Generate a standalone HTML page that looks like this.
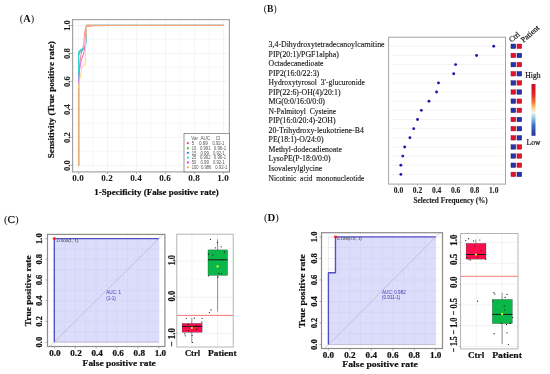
<!DOCTYPE html>
<html><head><meta charset="utf-8"><title>Figure</title>
<style>html,body{margin:0;padding:0;background:#fff;}svg{display:block;}</style></head>
<body><svg width="550" height="374" viewBox="0 0 550 374">
<rect width="550" height="374" fill="#fff"/>
<text x="19.80" y="21.60" font-family='"Liberation Serif", serif' font-size="10.3" fill="#111">(<tspan font-weight="bold">A</tspan>)</text>
<text x="263.80" y="11.60" font-family='"Liberation Serif", serif' font-size="9.6" fill="#111">(<tspan font-weight="bold">B</tspan>)</text>
<text x="3.90" y="223.30" font-family='"Liberation Serif", serif' font-size="11.1" fill="#111">(<tspan stroke="#111" stroke-width="0.25">C</tspan>)</text>
<text x="263.90" y="221.00" font-family='"Liberation Serif", serif' font-size="10.7" fill="#111">(<tspan font-weight="bold">D</tspan>)</text>
<line x1="78.60" y1="20.30" x2="78.60" y2="170.60" stroke="#ececec" stroke-width="0.6"/>
<line x1="73.30" y1="165.30" x2="228.70" y2="165.30" stroke="#ececec" stroke-width="0.6"/>
<line x1="93.10" y1="20.30" x2="93.10" y2="170.60" stroke="#f4f4f4" stroke-width="0.6"/>
<line x1="73.30" y1="151.31" x2="228.70" y2="151.31" stroke="#f4f4f4" stroke-width="0.6"/>
<line x1="107.60" y1="20.30" x2="107.60" y2="170.60" stroke="#ececec" stroke-width="0.6"/>
<line x1="73.30" y1="137.32" x2="228.70" y2="137.32" stroke="#ececec" stroke-width="0.6"/>
<line x1="122.10" y1="20.30" x2="122.10" y2="170.60" stroke="#f4f4f4" stroke-width="0.6"/>
<line x1="73.30" y1="123.33" x2="228.70" y2="123.33" stroke="#f4f4f4" stroke-width="0.6"/>
<line x1="136.60" y1="20.30" x2="136.60" y2="170.60" stroke="#ececec" stroke-width="0.6"/>
<line x1="73.30" y1="109.34" x2="228.70" y2="109.34" stroke="#ececec" stroke-width="0.6"/>
<line x1="151.10" y1="20.30" x2="151.10" y2="170.60" stroke="#f4f4f4" stroke-width="0.6"/>
<line x1="73.30" y1="95.35" x2="228.70" y2="95.35" stroke="#f4f4f4" stroke-width="0.6"/>
<line x1="165.60" y1="20.30" x2="165.60" y2="170.60" stroke="#ececec" stroke-width="0.6"/>
<line x1="73.30" y1="81.36" x2="228.70" y2="81.36" stroke="#ececec" stroke-width="0.6"/>
<line x1="180.10" y1="20.30" x2="180.10" y2="170.60" stroke="#f4f4f4" stroke-width="0.6"/>
<line x1="73.30" y1="67.37" x2="228.70" y2="67.37" stroke="#f4f4f4" stroke-width="0.6"/>
<line x1="194.60" y1="20.30" x2="194.60" y2="170.60" stroke="#ececec" stroke-width="0.6"/>
<line x1="73.30" y1="53.38" x2="228.70" y2="53.38" stroke="#ececec" stroke-width="0.6"/>
<line x1="209.10" y1="20.30" x2="209.10" y2="170.60" stroke="#f4f4f4" stroke-width="0.6"/>
<line x1="73.30" y1="39.39" x2="228.70" y2="39.39" stroke="#f4f4f4" stroke-width="0.6"/>
<line x1="223.60" y1="20.30" x2="223.60" y2="170.60" stroke="#ececec" stroke-width="0.6"/>
<line x1="73.30" y1="25.40" x2="228.70" y2="25.40" stroke="#ececec" stroke-width="0.6"/>
<polyline points="78.60,165.30 78.60,84.00 79.20,70.00 80.20,60.00 81.20,54.00 82.10,50.10 83.80,44.80 84.30,36.70 85.10,30.10 86.70,26.70 93.40,25.80 110.00,25.50 223.60,25.40" fill="none" stroke="#ff8290" stroke-width="1.0" stroke-linejoin="round"/>
<polyline points="78.60,165.30 78.60,53.00 80.00,50.80 83.40,48.60 85.40,46.60 86.10,36.70 86.40,25.40 223.60,25.40" fill="none" stroke="#3ccc5a" stroke-width="1.0" stroke-linejoin="round"/>
<polyline points="78.60,165.30 78.60,55.00 80.00,52.50 83.40,49.50 85.60,46.50 86.20,36.00 86.40,25.40 223.60,25.40" fill="none" stroke="#3a98ea" stroke-width="1.0" stroke-linejoin="round"/>
<polyline points="78.60,165.30 78.60,73.00 78.70,51.40 80.00,50.10 83.40,48.10 85.40,46.10 86.10,36.70 86.40,25.40 223.60,25.40" fill="none" stroke="#30dcdc" stroke-width="1.0" stroke-linejoin="round"/>
<polyline points="78.60,165.30 78.60,86.00 79.30,72.00 80.50,63.00 82.00,58.00 83.50,54.00 85.00,47.00 86.00,33.00 86.40,25.40 223.60,25.40" fill="none" stroke="#ff5ae6" stroke-width="1.0" stroke-linejoin="round"/>
<polyline points="78.60,165.30 78.60,86.00 80.00,78.00 81.60,70.00 81.60,66.30 85.20,65.00 85.30,48.00 86.00,35.00 86.40,25.40 223.60,25.40" fill="none" stroke="#fcd47c" stroke-width="1.0" stroke-linejoin="round"/>
<line x1="86.40" y1="25.40" x2="223.60" y2="25.40" stroke="#f0a878" stroke-width="1.0"/>
<line x1="78.60" y1="165.30" x2="78.60" y2="88.00" stroke="#e4aa78" stroke-width="1.0"/>
<rect x="72.60" y="19.60" width="156.80" height="152.30" fill="none" stroke="#a4a4a4" stroke-width="1.2"/>
<line x1="70.60" y1="165.30" x2="72.60" y2="165.30" stroke="#8e8e8e" stroke-width="0.8"/>
<line x1="78.60" y1="171.90" x2="78.60" y2="173.90" stroke="#999" stroke-width="0.8"/>
<text x="78.00" y="181.20" font-family='"Liberation Serif", serif' font-size="8.1" font-weight="bold" text-anchor="middle" fill="#1a1a1a" textLength="11.40" lengthAdjust="spacingAndGlyphs" stroke="#1a1a1a" stroke-width="0.05">0.0</text>
<text x="69.70" y="165.50" font-family='"Liberation Serif", serif' font-size="8.3" font-weight="bold" text-anchor="middle" fill="#1a1a1a" transform="rotate(-90 69.70 165.50)" textLength="10.80" lengthAdjust="spacingAndGlyphs" stroke="#1a1a1a" stroke-width="0.05">0.0</text>
<line x1="70.60" y1="137.32" x2="72.60" y2="137.32" stroke="#8e8e8e" stroke-width="0.8"/>
<line x1="107.60" y1="171.90" x2="107.60" y2="173.90" stroke="#999" stroke-width="0.8"/>
<text x="107.00" y="181.20" font-family='"Liberation Serif", serif' font-size="8.1" font-weight="bold" text-anchor="middle" fill="#1a1a1a" textLength="11.40" lengthAdjust="spacingAndGlyphs" stroke="#1a1a1a" stroke-width="0.05">0.2</text>
<text x="69.70" y="137.52" font-family='"Liberation Serif", serif' font-size="8.3" font-weight="bold" text-anchor="middle" fill="#1a1a1a" transform="rotate(-90 69.70 137.52)" textLength="10.80" lengthAdjust="spacingAndGlyphs" stroke="#1a1a1a" stroke-width="0.05">0.2</text>
<line x1="70.60" y1="109.34" x2="72.60" y2="109.34" stroke="#8e8e8e" stroke-width="0.8"/>
<line x1="136.60" y1="171.90" x2="136.60" y2="173.90" stroke="#999" stroke-width="0.8"/>
<text x="136.00" y="181.20" font-family='"Liberation Serif", serif' font-size="8.1" font-weight="bold" text-anchor="middle" fill="#1a1a1a" textLength="11.40" lengthAdjust="spacingAndGlyphs" stroke="#1a1a1a" stroke-width="0.05">0.4</text>
<text x="69.70" y="109.54" font-family='"Liberation Serif", serif' font-size="8.3" font-weight="bold" text-anchor="middle" fill="#1a1a1a" transform="rotate(-90 69.70 109.54)" textLength="10.80" lengthAdjust="spacingAndGlyphs" stroke="#1a1a1a" stroke-width="0.05">0.4</text>
<line x1="70.60" y1="81.36" x2="72.60" y2="81.36" stroke="#8e8e8e" stroke-width="0.8"/>
<line x1="165.60" y1="171.90" x2="165.60" y2="173.90" stroke="#999" stroke-width="0.8"/>
<text x="165.00" y="181.20" font-family='"Liberation Serif", serif' font-size="8.1" font-weight="bold" text-anchor="middle" fill="#1a1a1a" textLength="11.40" lengthAdjust="spacingAndGlyphs" stroke="#1a1a1a" stroke-width="0.05">0.6</text>
<text x="69.70" y="81.56" font-family='"Liberation Serif", serif' font-size="8.3" font-weight="bold" text-anchor="middle" fill="#1a1a1a" transform="rotate(-90 69.70 81.56)" textLength="10.80" lengthAdjust="spacingAndGlyphs" stroke="#1a1a1a" stroke-width="0.05">0.6</text>
<line x1="70.60" y1="53.38" x2="72.60" y2="53.38" stroke="#8e8e8e" stroke-width="0.8"/>
<line x1="194.60" y1="171.90" x2="194.60" y2="173.90" stroke="#999" stroke-width="0.8"/>
<text x="194.00" y="181.20" font-family='"Liberation Serif", serif' font-size="8.1" font-weight="bold" text-anchor="middle" fill="#1a1a1a" textLength="11.40" lengthAdjust="spacingAndGlyphs" stroke="#1a1a1a" stroke-width="0.05">0.8</text>
<text x="69.70" y="53.58" font-family='"Liberation Serif", serif' font-size="8.3" font-weight="bold" text-anchor="middle" fill="#1a1a1a" transform="rotate(-90 69.70 53.58)" textLength="10.80" lengthAdjust="spacingAndGlyphs" stroke="#1a1a1a" stroke-width="0.05">0.8</text>
<line x1="70.60" y1="25.40" x2="72.60" y2="25.40" stroke="#8e8e8e" stroke-width="0.8"/>
<line x1="223.60" y1="171.90" x2="223.60" y2="173.90" stroke="#999" stroke-width="0.8"/>
<text x="223.00" y="181.20" font-family='"Liberation Serif", serif' font-size="8.1" font-weight="bold" text-anchor="middle" fill="#1a1a1a" textLength="11.40" lengthAdjust="spacingAndGlyphs" stroke="#1a1a1a" stroke-width="0.05">1.0</text>
<text x="69.70" y="25.60" font-family='"Liberation Serif", serif' font-size="8.3" font-weight="bold" text-anchor="middle" fill="#1a1a1a" transform="rotate(-90 69.70 25.60)" textLength="10.80" lengthAdjust="spacingAndGlyphs" stroke="#1a1a1a" stroke-width="0.05">1.0</text>
<text x="53.60" y="99.70" font-family='"Liberation Serif", serif' font-size="8.2" font-weight="bold" text-anchor="middle" fill="#111" transform="rotate(-90 53.60 99.70)" textLength="117.00" lengthAdjust="spacingAndGlyphs" stroke="#111" stroke-width="0.2">Sensitivity (True positive rate)</text>
<text x="156.50" y="194.90" font-family='"Liberation Serif", serif' font-size="8.2" font-weight="bold" text-anchor="middle" fill="#111" textLength="124.30" lengthAdjust="spacingAndGlyphs" stroke="#111" stroke-width="0.2">1-Specificity (False positive rate)</text>
<rect x="184.00" y="133.30" width="45.40" height="38.60" fill="#fff" stroke="#555" stroke-width="0.6"/>
<text x="191.30" y="139.60" font-family='"Liberation Sans", sans-serif' font-size="4.7" font-weight="normal" text-anchor="start" fill="#555" textLength="6.70" lengthAdjust="spacingAndGlyphs">Var</text>
<text x="200.40" y="139.60" font-family='"Liberation Sans", sans-serif' font-size="4.7" font-weight="normal" text-anchor="start" fill="#555" textLength="9.60" lengthAdjust="spacingAndGlyphs">AUC</text>
<text x="215.80" y="139.60" font-family='"Liberation Sans", sans-serif' font-size="4.7" font-weight="normal" text-anchor="start" fill="#555" textLength="4.60" lengthAdjust="spacingAndGlyphs">CI</text>
<rect x="186.90" y="142.20" width="1.90" height="1.90" fill="#f04a5e" stroke="none" stroke-width="1"/>
<text x="191.70" y="144.80" font-family='"Liberation Sans", sans-serif' font-size="4.7" font-weight="normal" text-anchor="start" fill="#555" textLength="2.40" lengthAdjust="spacingAndGlyphs">5</text>
<text x="198.90" y="144.80" font-family='"Liberation Sans", sans-serif' font-size="4.7" font-weight="normal" text-anchor="start" fill="#555" textLength="9.00" lengthAdjust="spacingAndGlyphs">0.99</text>
<text x="212.40" y="144.80" font-family='"Liberation Sans", sans-serif' font-size="4.7" font-weight="normal" text-anchor="start" fill="#555" textLength="12.00" lengthAdjust="spacingAndGlyphs">0.92-1</text>
<rect x="186.90" y="147.30" width="1.90" height="1.90" fill="#22c040" stroke="none" stroke-width="1"/>
<text x="191.70" y="149.90" font-family='"Liberation Sans", sans-serif' font-size="4.7" font-weight="normal" text-anchor="start" fill="#555" textLength="4.60" lengthAdjust="spacingAndGlyphs">10</text>
<text x="199.90" y="149.90" font-family='"Liberation Sans", sans-serif' font-size="4.7" font-weight="normal" text-anchor="start" fill="#555" textLength="10.60" lengthAdjust="spacingAndGlyphs">0.991</text>
<text x="213.80" y="149.90" font-family='"Liberation Sans", sans-serif' font-size="4.7" font-weight="normal" text-anchor="start" fill="#555" textLength="12.30" lengthAdjust="spacingAndGlyphs">0.96-1</text>
<rect x="186.90" y="151.90" width="1.90" height="1.90" fill="#2080e0" stroke="none" stroke-width="1"/>
<text x="191.70" y="154.50" font-family='"Liberation Sans", sans-serif' font-size="4.7" font-weight="normal" text-anchor="start" fill="#555" textLength="4.60" lengthAdjust="spacingAndGlyphs">15</text>
<text x="200.40" y="154.50" font-family='"Liberation Sans", sans-serif' font-size="4.7" font-weight="normal" text-anchor="start" fill="#555" textLength="8.70" lengthAdjust="spacingAndGlyphs">0.99</text>
<text x="212.90" y="154.50" font-family='"Liberation Sans", sans-serif' font-size="4.7" font-weight="normal" text-anchor="start" fill="#555" textLength="12.00" lengthAdjust="spacingAndGlyphs">0.92-1</text>
<rect x="186.90" y="156.70" width="1.90" height="1.90" fill="#22dede" stroke="none" stroke-width="1"/>
<text x="191.70" y="159.30" font-family='"Liberation Sans", sans-serif' font-size="4.7" font-weight="normal" text-anchor="start" fill="#555" textLength="4.60" lengthAdjust="spacingAndGlyphs">25</text>
<text x="199.90" y="159.30" font-family='"Liberation Sans", sans-serif' font-size="4.7" font-weight="normal" text-anchor="start" fill="#555" textLength="10.60" lengthAdjust="spacingAndGlyphs">0.992</text>
<text x="213.80" y="159.30" font-family='"Liberation Sans", sans-serif' font-size="4.7" font-weight="normal" text-anchor="start" fill="#555" textLength="12.30" lengthAdjust="spacingAndGlyphs">0.96-1</text>
<rect x="186.90" y="161.50" width="1.90" height="1.90" fill="#ff22dd" stroke="none" stroke-width="1"/>
<text x="191.70" y="164.10" font-family='"Liberation Sans", sans-serif' font-size="4.7" font-weight="normal" text-anchor="start" fill="#555" textLength="4.60" lengthAdjust="spacingAndGlyphs">50</text>
<text x="200.40" y="164.10" font-family='"Liberation Sans", sans-serif' font-size="4.7" font-weight="normal" text-anchor="start" fill="#555" textLength="8.70" lengthAdjust="spacingAndGlyphs">0.99</text>
<text x="212.90" y="164.10" font-family='"Liberation Sans", sans-serif' font-size="4.7" font-weight="normal" text-anchor="start" fill="#555" textLength="12.00" lengthAdjust="spacingAndGlyphs">0.92-1</text>
<rect x="186.90" y="166.30" width="1.90" height="1.90" fill="#ffb020" stroke="none" stroke-width="1"/>
<text x="191.70" y="168.90" font-family='"Liberation Sans", sans-serif' font-size="4.7" font-weight="normal" text-anchor="start" fill="#555" textLength="6.80" lengthAdjust="spacingAndGlyphs">100</text>
<text x="200.90" y="168.90" font-family='"Liberation Sans", sans-serif' font-size="4.7" font-weight="normal" text-anchor="start" fill="#555" textLength="10.50" lengthAdjust="spacingAndGlyphs">0.986</text>
<text x="215.30" y="168.90" font-family='"Liberation Sans", sans-serif' font-size="4.7" font-weight="normal" text-anchor="start" fill="#555" textLength="12.00" lengthAdjust="spacingAndGlyphs">0.92-1</text>
<text x="268.60" y="47.00" font-family='"Liberation Serif", serif' font-size="8.3" font-weight="normal" text-anchor="start" fill="#111" textLength="116.00" lengthAdjust="spacingAndGlyphs" stroke="#111" stroke-width="0.12">3,4-Dihydroxytetradecanoylcarnitine</text>
<text x="268.60" y="56.54" font-family='"Liberation Serif", serif' font-size="8.3" font-weight="normal" text-anchor="start" fill="#111" textLength="70.20" lengthAdjust="spacingAndGlyphs" stroke="#111" stroke-width="0.12">PIP(20:1)/PGF1alpha)</text>
<text x="268.60" y="66.08" font-family='"Liberation Serif", serif' font-size="8.3" font-weight="normal" text-anchor="start" fill="#111" textLength="54.90" lengthAdjust="spacingAndGlyphs" stroke="#111" stroke-width="0.12">Octadecanedioate</text>
<text x="268.60" y="75.62" font-family='"Liberation Serif", serif' font-size="8.3" font-weight="normal" text-anchor="start" fill="#111" textLength="50.60" lengthAdjust="spacingAndGlyphs" stroke="#111" stroke-width="0.12">PIP2(16:0/22:3)</text>
<text x="268.60" y="85.16" font-family='"Liberation Serif", serif' font-size="8.3" font-weight="normal" text-anchor="start" fill="#111" textLength="96.40" lengthAdjust="spacingAndGlyphs" stroke="#111" stroke-width="0.12">Hydroxytyrosol&#160; 3'-glucuronide</text>
<text x="268.60" y="94.70" font-family='"Liberation Serif", serif' font-size="8.3" font-weight="normal" text-anchor="start" fill="#111" textLength="71.90" lengthAdjust="spacingAndGlyphs" stroke="#111" stroke-width="0.12">PIP(22:6)-OH(4)/20:1)</text>
<text x="268.60" y="104.24" font-family='"Liberation Serif", serif' font-size="8.3" font-weight="normal" text-anchor="start" fill="#111" textLength="56.40" lengthAdjust="spacingAndGlyphs" stroke="#111" stroke-width="0.12">MG(0:0/16:0/0:0)</text>
<text x="268.60" y="113.78" font-family='"Liberation Serif", serif' font-size="8.3" font-weight="normal" text-anchor="start" fill="#111" textLength="67.60" lengthAdjust="spacingAndGlyphs" stroke="#111" stroke-width="0.12">N-Palmitoyl&#160; Cysteine</text>
<text x="268.60" y="123.32" font-family='"Liberation Serif", serif' font-size="8.3" font-weight="normal" text-anchor="start" fill="#111" textLength="67.00" lengthAdjust="spacingAndGlyphs" stroke="#111" stroke-width="0.12">PIP(16:0/20:4)-2OH)</text>
<text x="268.60" y="132.86" font-family='"Liberation Serif", serif' font-size="8.3" font-weight="normal" text-anchor="start" fill="#111" textLength="95.20" lengthAdjust="spacingAndGlyphs" stroke="#111" stroke-width="0.12">20-Trihydroxy-leukotriene-B4</text>
<text x="268.60" y="142.40" font-family='"Liberation Serif", serif' font-size="8.3" font-weight="normal" text-anchor="start" fill="#111" textLength="54.90" lengthAdjust="spacingAndGlyphs" stroke="#111" stroke-width="0.12">PE(18:1)-O/24:0)</text>
<text x="268.60" y="151.94" font-family='"Liberation Serif", serif' font-size="8.3" font-weight="normal" text-anchor="start" fill="#111" textLength="73.30" lengthAdjust="spacingAndGlyphs" stroke="#111" stroke-width="0.12">Methyl-dodecadienoate</text>
<text x="268.60" y="161.48" font-family='"Liberation Serif", serif' font-size="8.3" font-weight="normal" text-anchor="start" fill="#111" textLength="61.90" lengthAdjust="spacingAndGlyphs" stroke="#111" stroke-width="0.12">LysoPE(P-18:0/0:0)</text>
<text x="268.60" y="171.02" font-family='"Liberation Serif", serif' font-size="8.3" font-weight="normal" text-anchor="start" fill="#111" textLength="53.60" lengthAdjust="spacingAndGlyphs" stroke="#111" stroke-width="0.12">Isovalerylglycine</text>
<text x="268.60" y="180.56" font-family='"Liberation Serif", serif' font-size="8.3" font-weight="normal" text-anchor="start" fill="#111" textLength="95.80" lengthAdjust="spacingAndGlyphs" stroke="#111" stroke-width="0.12">Nicotinic&#160; acid&#160; mononucleotide</text>
<line x1="391.00" y1="46.30" x2="503.00" y2="46.30" stroke="#ebebeb" stroke-width="0.6"/>
<line x1="391.00" y1="55.45" x2="503.00" y2="55.45" stroke="#ebebeb" stroke-width="0.6"/>
<line x1="391.00" y1="64.60" x2="503.00" y2="64.60" stroke="#ebebeb" stroke-width="0.6"/>
<line x1="391.00" y1="73.75" x2="503.00" y2="73.75" stroke="#ebebeb" stroke-width="0.6"/>
<line x1="391.00" y1="82.90" x2="503.00" y2="82.90" stroke="#ebebeb" stroke-width="0.6"/>
<line x1="391.00" y1="92.05" x2="503.00" y2="92.05" stroke="#ebebeb" stroke-width="0.6"/>
<line x1="391.00" y1="101.20" x2="503.00" y2="101.20" stroke="#ebebeb" stroke-width="0.6"/>
<line x1="391.00" y1="110.35" x2="503.00" y2="110.35" stroke="#ebebeb" stroke-width="0.6"/>
<line x1="391.00" y1="119.50" x2="503.00" y2="119.50" stroke="#ebebeb" stroke-width="0.6"/>
<line x1="391.00" y1="128.65" x2="503.00" y2="128.65" stroke="#ebebeb" stroke-width="0.6"/>
<line x1="391.00" y1="137.80" x2="503.00" y2="137.80" stroke="#ebebeb" stroke-width="0.6"/>
<line x1="391.00" y1="146.95" x2="503.00" y2="146.95" stroke="#ebebeb" stroke-width="0.6"/>
<line x1="391.00" y1="156.10" x2="503.00" y2="156.10" stroke="#ebebeb" stroke-width="0.6"/>
<line x1="391.00" y1="165.25" x2="503.00" y2="165.25" stroke="#ebebeb" stroke-width="0.6"/>
<line x1="391.00" y1="174.40" x2="503.00" y2="174.40" stroke="#ebebeb" stroke-width="0.6"/>
<rect x="388.60" y="37.20" width="116.90" height="146.90" fill="none" stroke="#a6a6a6" stroke-width="1.0"/>
<circle cx="493.70" cy="46.30" r="1.45" fill="#1c1ca8"/>
<circle cx="476.56" cy="55.45" r="1.45" fill="#1c1ca8"/>
<circle cx="455.62" cy="64.60" r="1.45" fill="#1c1ca8"/>
<circle cx="453.72" cy="73.75" r="1.45" fill="#1c1ca8"/>
<circle cx="438.48" cy="82.90" r="1.45" fill="#1c1ca8"/>
<circle cx="436.58" cy="92.05" r="1.45" fill="#1c1ca8"/>
<circle cx="428.96" cy="101.20" r="1.45" fill="#1c1ca8"/>
<circle cx="421.35" cy="110.35" r="1.45" fill="#1c1ca8"/>
<circle cx="417.54" cy="119.50" r="1.45" fill="#1c1ca8"/>
<circle cx="413.73" cy="128.65" r="1.45" fill="#1c1ca8"/>
<circle cx="409.92" cy="137.80" r="1.45" fill="#1c1ca8"/>
<circle cx="404.69" cy="146.95" r="1.45" fill="#1c1ca8"/>
<circle cx="402.78" cy="156.10" r="1.45" fill="#1c1ca8"/>
<circle cx="400.88" cy="165.25" r="1.45" fill="#1c1ca8"/>
<circle cx="400.88" cy="174.40" r="1.45" fill="#1c1ca8"/>
<line x1="398.50" y1="184.10" x2="398.50" y2="185.60" stroke="#999" stroke-width="0.6"/>
<text x="398.50" y="192.60" font-family='"Liberation Serif", serif' font-size="7.8" font-weight="bold" text-anchor="middle" fill="#222" textLength="9.40" lengthAdjust="spacingAndGlyphs" stroke="#222" stroke-width="0.1">0.0</text>
<line x1="417.54" y1="184.10" x2="417.54" y2="185.60" stroke="#999" stroke-width="0.6"/>
<text x="417.54" y="192.60" font-family='"Liberation Serif", serif' font-size="7.8" font-weight="bold" text-anchor="middle" fill="#222" textLength="9.40" lengthAdjust="spacingAndGlyphs" stroke="#222" stroke-width="0.1">0.2</text>
<line x1="436.58" y1="184.10" x2="436.58" y2="185.60" stroke="#999" stroke-width="0.6"/>
<text x="436.58" y="192.60" font-family='"Liberation Serif", serif' font-size="7.8" font-weight="bold" text-anchor="middle" fill="#222" textLength="9.40" lengthAdjust="spacingAndGlyphs" stroke="#222" stroke-width="0.1">0.4</text>
<line x1="455.62" y1="184.10" x2="455.62" y2="185.60" stroke="#999" stroke-width="0.6"/>
<text x="455.62" y="192.60" font-family='"Liberation Serif", serif' font-size="7.8" font-weight="bold" text-anchor="middle" fill="#222" textLength="9.40" lengthAdjust="spacingAndGlyphs" stroke="#222" stroke-width="0.1">0.6</text>
<line x1="474.66" y1="184.10" x2="474.66" y2="185.60" stroke="#999" stroke-width="0.6"/>
<text x="474.66" y="192.60" font-family='"Liberation Serif", serif' font-size="7.8" font-weight="bold" text-anchor="middle" fill="#222" textLength="9.40" lengthAdjust="spacingAndGlyphs" stroke="#222" stroke-width="0.1">0.8</text>
<line x1="493.70" y1="184.10" x2="493.70" y2="185.60" stroke="#999" stroke-width="0.6"/>
<text x="493.70" y="192.60" font-family='"Liberation Serif", serif' font-size="7.8" font-weight="bold" text-anchor="middle" fill="#222" textLength="9.40" lengthAdjust="spacingAndGlyphs" stroke="#222" stroke-width="0.1">1.0</text>
<text x="450.60" y="203.00" font-family='"Liberation Serif", serif' font-size="7.3" font-weight="bold" text-anchor="middle" fill="#1a1a1a" textLength="74.40" lengthAdjust="spacingAndGlyphs" stroke="#1a1a1a" stroke-width="0.1">Selected Frequency (%)</text>
<rect x="510.95" y="44.00" width="4.80" height="4.60" fill="#2434aa" stroke="#1a1050" stroke-width="0.35"/>
<rect x="516.95" y="44.00" width="4.80" height="4.60" fill="#e0122c" stroke="#901020" stroke-width="0.35"/>
<rect x="510.95" y="53.15" width="4.80" height="4.60" fill="#e0122c" stroke="#901020" stroke-width="0.35"/>
<rect x="516.95" y="53.15" width="4.80" height="4.60" fill="#2434aa" stroke="#1a1050" stroke-width="0.35"/>
<rect x="510.95" y="62.30" width="4.80" height="4.60" fill="#2434aa" stroke="#1a1050" stroke-width="0.35"/>
<rect x="516.95" y="62.30" width="4.80" height="4.60" fill="#e0122c" stroke="#901020" stroke-width="0.35"/>
<rect x="510.95" y="71.45" width="4.80" height="4.60" fill="#e0122c" stroke="#901020" stroke-width="0.35"/>
<rect x="516.95" y="71.45" width="4.80" height="4.60" fill="#2434aa" stroke="#1a1050" stroke-width="0.35"/>
<rect x="510.95" y="80.60" width="4.80" height="4.60" fill="#2434aa" stroke="#1a1050" stroke-width="0.35"/>
<rect x="516.95" y="80.60" width="4.80" height="4.60" fill="#e0122c" stroke="#901020" stroke-width="0.35"/>
<rect x="510.95" y="89.75" width="4.80" height="4.60" fill="#e0122c" stroke="#901020" stroke-width="0.35"/>
<rect x="516.95" y="89.75" width="4.80" height="4.60" fill="#2434aa" stroke="#1a1050" stroke-width="0.35"/>
<rect x="510.95" y="98.90" width="4.80" height="4.60" fill="#2434aa" stroke="#1a1050" stroke-width="0.35"/>
<rect x="516.95" y="98.90" width="4.80" height="4.60" fill="#e0122c" stroke="#901020" stroke-width="0.35"/>
<rect x="510.95" y="108.05" width="4.80" height="4.60" fill="#2434aa" stroke="#1a1050" stroke-width="0.35"/>
<rect x="516.95" y="108.05" width="4.80" height="4.60" fill="#e0122c" stroke="#901020" stroke-width="0.35"/>
<rect x="510.95" y="117.20" width="4.80" height="4.60" fill="#e0122c" stroke="#901020" stroke-width="0.35"/>
<rect x="516.95" y="117.20" width="4.80" height="4.60" fill="#2434aa" stroke="#1a1050" stroke-width="0.35"/>
<rect x="510.95" y="126.35" width="4.80" height="4.60" fill="#e0122c" stroke="#901020" stroke-width="0.35"/>
<rect x="516.95" y="126.35" width="4.80" height="4.60" fill="#2434aa" stroke="#1a1050" stroke-width="0.35"/>
<rect x="510.95" y="135.50" width="4.80" height="4.60" fill="#e0122c" stroke="#901020" stroke-width="0.35"/>
<rect x="516.95" y="135.50" width="4.80" height="4.60" fill="#2434aa" stroke="#1a1050" stroke-width="0.35"/>
<rect x="510.95" y="144.65" width="4.80" height="4.60" fill="#2434aa" stroke="#1a1050" stroke-width="0.35"/>
<rect x="516.95" y="144.65" width="4.80" height="4.60" fill="#e0122c" stroke="#901020" stroke-width="0.35"/>
<rect x="510.95" y="153.80" width="4.80" height="4.60" fill="#2434aa" stroke="#1a1050" stroke-width="0.35"/>
<rect x="516.95" y="153.80" width="4.80" height="4.60" fill="#e0122c" stroke="#901020" stroke-width="0.35"/>
<rect x="510.95" y="162.95" width="4.80" height="4.60" fill="#2434aa" stroke="#1a1050" stroke-width="0.35"/>
<rect x="516.95" y="162.95" width="4.80" height="4.60" fill="#e0122c" stroke="#901020" stroke-width="0.35"/>
<rect x="510.95" y="172.10" width="4.80" height="4.60" fill="#e0122c" stroke="#901020" stroke-width="0.35"/>
<rect x="516.95" y="172.10" width="4.80" height="4.60" fill="#2434aa" stroke="#1a1050" stroke-width="0.35"/>
<text x="511.50" y="42.60" font-family='"Liberation Serif", serif' font-size="7.5" font-weight="normal" text-anchor="start" fill="#111" transform="rotate(-40 511.50 42.60)" stroke="#111" stroke-width="0.2">Ctrl</text>
<text x="523.60" y="42.80" font-family='"Liberation Serif", serif' font-size="7.8" font-weight="normal" text-anchor="start" fill="#111" transform="rotate(-41 523.60 42.80)" stroke="#111" stroke-width="0.2">Patient</text>
<defs><linearGradient id="cb" x1="0" y1="0" x2="0" y2="1"><stop offset="0" stop-color="#c0102a"/><stop offset="0.2" stop-color="#e22228"/><stop offset="0.35" stop-color="#f07838"/><stop offset="0.47" stop-color="#fcd488"/><stop offset="0.55" stop-color="#f0f8f0"/><stop offset="0.65" stop-color="#90d0e8"/><stop offset="0.8" stop-color="#3a70c0"/><stop offset="1" stop-color="#28309a"/></linearGradient></defs>
<rect x="531.50" y="84.00" width="4.00" height="51.80" fill="url(#cb)" stroke="none" stroke-width="1"/>
<text x="525.30" y="78.00" font-family='"Liberation Serif", serif' font-size="7.6" font-weight="normal" text-anchor="start" fill="#111" stroke="#111" stroke-width="0.2">High</text>
<text x="526.60" y="145.00" font-family='"Liberation Serif", serif' font-size="7.6" font-weight="normal" text-anchor="start" fill="#111" stroke="#111" stroke-width="0.2">Low</text>
<line x1="54.30" y1="234.40" x2="54.30" y2="346.50" stroke="#efefef" stroke-width="0.5"/>
<line x1="47.50" y1="342.10" x2="164.90" y2="342.10" stroke="#efefef" stroke-width="0.5"/>
<line x1="64.75" y1="234.40" x2="64.75" y2="346.50" stroke="#efefef" stroke-width="0.5"/>
<line x1="47.50" y1="331.75" x2="164.90" y2="331.75" stroke="#efefef" stroke-width="0.5"/>
<line x1="75.20" y1="234.40" x2="75.20" y2="346.50" stroke="#efefef" stroke-width="0.5"/>
<line x1="47.50" y1="321.40" x2="164.90" y2="321.40" stroke="#efefef" stroke-width="0.5"/>
<line x1="85.65" y1="234.40" x2="85.65" y2="346.50" stroke="#efefef" stroke-width="0.5"/>
<line x1="47.50" y1="311.05" x2="164.90" y2="311.05" stroke="#efefef" stroke-width="0.5"/>
<line x1="96.10" y1="234.40" x2="96.10" y2="346.50" stroke="#efefef" stroke-width="0.5"/>
<line x1="47.50" y1="300.70" x2="164.90" y2="300.70" stroke="#efefef" stroke-width="0.5"/>
<line x1="106.55" y1="234.40" x2="106.55" y2="346.50" stroke="#efefef" stroke-width="0.5"/>
<line x1="47.50" y1="290.35" x2="164.90" y2="290.35" stroke="#efefef" stroke-width="0.5"/>
<line x1="117.00" y1="234.40" x2="117.00" y2="346.50" stroke="#efefef" stroke-width="0.5"/>
<line x1="47.50" y1="280.00" x2="164.90" y2="280.00" stroke="#efefef" stroke-width="0.5"/>
<line x1="127.45" y1="234.40" x2="127.45" y2="346.50" stroke="#efefef" stroke-width="0.5"/>
<line x1="47.50" y1="269.65" x2="164.90" y2="269.65" stroke="#efefef" stroke-width="0.5"/>
<line x1="137.90" y1="234.40" x2="137.90" y2="346.50" stroke="#efefef" stroke-width="0.5"/>
<line x1="47.50" y1="259.30" x2="164.90" y2="259.30" stroke="#efefef" stroke-width="0.5"/>
<line x1="148.35" y1="234.40" x2="148.35" y2="346.50" stroke="#efefef" stroke-width="0.5"/>
<line x1="47.50" y1="248.95" x2="164.90" y2="248.95" stroke="#efefef" stroke-width="0.5"/>
<line x1="158.80" y1="234.40" x2="158.80" y2="346.50" stroke="#efefef" stroke-width="0.5"/>
<line x1="47.50" y1="238.60" x2="164.90" y2="238.60" stroke="#efefef" stroke-width="0.5"/>
<polygon points="54.30,342.10 54.30,238.60 158.80,238.60 158.80,342.10" fill="#dcdcfb"/>
<line x1="54.30" y1="342.10" x2="158.80" y2="342.10" stroke="#b4b4cc" stroke-width="0.8"/>
<g opacity="0.55">
<line x1="54.30" y1="342.10" x2="54.30" y2="238.60" stroke="#c4c4ec" stroke-width="0.5"/>
<line x1="54.30" y1="342.10" x2="158.80" y2="342.10" stroke="#c4c4ec" stroke-width="0.5"/>
<line x1="64.75" y1="342.10" x2="64.75" y2="238.60" stroke="#c4c4ec" stroke-width="0.5"/>
<line x1="54.30" y1="331.75" x2="158.80" y2="331.75" stroke="#c4c4ec" stroke-width="0.5"/>
<line x1="75.20" y1="342.10" x2="75.20" y2="238.60" stroke="#c4c4ec" stroke-width="0.5"/>
<line x1="54.30" y1="321.40" x2="158.80" y2="321.40" stroke="#c4c4ec" stroke-width="0.5"/>
<line x1="85.65" y1="342.10" x2="85.65" y2="238.60" stroke="#c4c4ec" stroke-width="0.5"/>
<line x1="54.30" y1="311.05" x2="158.80" y2="311.05" stroke="#c4c4ec" stroke-width="0.5"/>
<line x1="96.10" y1="342.10" x2="96.10" y2="238.60" stroke="#c4c4ec" stroke-width="0.5"/>
<line x1="54.30" y1="300.70" x2="158.80" y2="300.70" stroke="#c4c4ec" stroke-width="0.5"/>
<line x1="106.55" y1="342.10" x2="106.55" y2="238.60" stroke="#c4c4ec" stroke-width="0.5"/>
<line x1="54.30" y1="290.35" x2="158.80" y2="290.35" stroke="#c4c4ec" stroke-width="0.5"/>
<line x1="117.00" y1="342.10" x2="117.00" y2="238.60" stroke="#c4c4ec" stroke-width="0.5"/>
<line x1="54.30" y1="280.00" x2="158.80" y2="280.00" stroke="#c4c4ec" stroke-width="0.5"/>
<line x1="127.45" y1="342.10" x2="127.45" y2="238.60" stroke="#c4c4ec" stroke-width="0.5"/>
<line x1="54.30" y1="269.65" x2="158.80" y2="269.65" stroke="#c4c4ec" stroke-width="0.5"/>
<line x1="137.90" y1="342.10" x2="137.90" y2="238.60" stroke="#c4c4ec" stroke-width="0.5"/>
<line x1="54.30" y1="259.30" x2="158.80" y2="259.30" stroke="#c4c4ec" stroke-width="0.5"/>
<line x1="148.35" y1="342.10" x2="148.35" y2="238.60" stroke="#c4c4ec" stroke-width="0.5"/>
<line x1="54.30" y1="248.95" x2="158.80" y2="248.95" stroke="#c4c4ec" stroke-width="0.5"/>
<line x1="158.80" y1="342.10" x2="158.80" y2="238.60" stroke="#c4c4ec" stroke-width="0.5"/>
<line x1="54.30" y1="238.60" x2="158.80" y2="238.60" stroke="#c4c4ec" stroke-width="0.5"/>
</g>
<clipPath id="cp47"><rect x="47.5" y="234.4" width="117.4" height="112.1"/></clipPath>
<line x1="33.40" y1="362.80" x2="179.70" y2="217.90" stroke="#b0b0b8" stroke-width="0.6" clip-path="url(#cp47)"/>
<polyline points="54.30,342.10 54.30,238.60 158.80,238.60" fill="none" stroke="#4f4fc4" stroke-width="1.35" stroke-linejoin="round"/>
<rect x="47.50" y="234.40" width="117.40" height="112.10" fill="none" stroke="#8c8c8c" stroke-width="1.2"/>
<circle cx="54.30" cy="238.60" r="1.4" fill="#ff1010"/>
<text x="55.70" y="242.00" font-family='"Liberation Sans", sans-serif' font-size="4.4" font-weight="normal" text-anchor="start" fill="#333">-0.500(1, 1)</text>
<text x="106.20" y="294.40" font-family='"Liberation Sans", sans-serif' font-size="4.6" font-weight="normal" text-anchor="start" fill="#3a3ab4">AUC: 1</text>
<text x="106.20" y="299.60" font-family='"Liberation Sans", sans-serif' font-size="4.6" font-weight="normal" text-anchor="start" fill="#3a3ab4">(1-1)</text>
<line x1="45.50" y1="342.10" x2="47.50" y2="342.10" stroke="#8c8c8c" stroke-width="0.7"/>
<line x1="54.30" y1="346.50" x2="54.30" y2="348.50" stroke="#8c8c8c" stroke-width="0.7"/>
<text x="54.90" y="355.50" font-family='"Liberation Serif", serif' font-size="9.0" font-weight="bold" text-anchor="middle" fill="#111" textLength="11.40" lengthAdjust="spacingAndGlyphs" stroke="#111" stroke-width="0.22">0.0</text>
<text x="42.30" y="342.10" font-family='"Liberation Serif", serif' font-size="9.0" font-weight="bold" text-anchor="middle" fill="#111" transform="rotate(-90 42.30 342.10)" textLength="10.60" lengthAdjust="spacingAndGlyphs" stroke="#111" stroke-width="0.22">0.0</text>
<line x1="45.50" y1="321.40" x2="47.50" y2="321.40" stroke="#8c8c8c" stroke-width="0.7"/>
<line x1="75.20" y1="346.50" x2="75.20" y2="348.50" stroke="#8c8c8c" stroke-width="0.7"/>
<text x="76.00" y="355.50" font-family='"Liberation Serif", serif' font-size="9.0" font-weight="bold" text-anchor="middle" fill="#111" textLength="11.40" lengthAdjust="spacingAndGlyphs" stroke="#111" stroke-width="0.22">0.2</text>
<text x="42.30" y="321.40" font-family='"Liberation Serif", serif' font-size="9.0" font-weight="bold" text-anchor="middle" fill="#111" transform="rotate(-90 42.30 321.40)" textLength="10.60" lengthAdjust="spacingAndGlyphs" stroke="#111" stroke-width="0.22">0.2</text>
<line x1="45.50" y1="300.70" x2="47.50" y2="300.70" stroke="#8c8c8c" stroke-width="0.7"/>
<line x1="96.10" y1="346.50" x2="96.10" y2="348.50" stroke="#8c8c8c" stroke-width="0.7"/>
<text x="97.10" y="355.50" font-family='"Liberation Serif", serif' font-size="9.0" font-weight="bold" text-anchor="middle" fill="#111" textLength="11.40" lengthAdjust="spacingAndGlyphs" stroke="#111" stroke-width="0.22">0.4</text>
<text x="42.30" y="300.70" font-family='"Liberation Serif", serif' font-size="9.0" font-weight="bold" text-anchor="middle" fill="#111" transform="rotate(-90 42.30 300.70)" textLength="10.60" lengthAdjust="spacingAndGlyphs" stroke="#111" stroke-width="0.22">0.4</text>
<line x1="45.50" y1="280.00" x2="47.50" y2="280.00" stroke="#8c8c8c" stroke-width="0.7"/>
<line x1="117.00" y1="346.50" x2="117.00" y2="348.50" stroke="#8c8c8c" stroke-width="0.7"/>
<text x="118.20" y="355.50" font-family='"Liberation Serif", serif' font-size="9.0" font-weight="bold" text-anchor="middle" fill="#111" textLength="11.40" lengthAdjust="spacingAndGlyphs" stroke="#111" stroke-width="0.22">0.6</text>
<text x="42.30" y="280.00" font-family='"Liberation Serif", serif' font-size="9.0" font-weight="bold" text-anchor="middle" fill="#111" transform="rotate(-90 42.30 280.00)" textLength="10.60" lengthAdjust="spacingAndGlyphs" stroke="#111" stroke-width="0.22">0.6</text>
<line x1="45.50" y1="259.30" x2="47.50" y2="259.30" stroke="#8c8c8c" stroke-width="0.7"/>
<line x1="137.90" y1="346.50" x2="137.90" y2="348.50" stroke="#8c8c8c" stroke-width="0.7"/>
<text x="139.30" y="355.50" font-family='"Liberation Serif", serif' font-size="9.0" font-weight="bold" text-anchor="middle" fill="#111" textLength="11.40" lengthAdjust="spacingAndGlyphs" stroke="#111" stroke-width="0.22">0.8</text>
<text x="42.30" y="259.30" font-family='"Liberation Serif", serif' font-size="9.0" font-weight="bold" text-anchor="middle" fill="#111" transform="rotate(-90 42.30 259.30)" textLength="10.60" lengthAdjust="spacingAndGlyphs" stroke="#111" stroke-width="0.22">0.8</text>
<line x1="45.50" y1="238.60" x2="47.50" y2="238.60" stroke="#8c8c8c" stroke-width="0.7"/>
<line x1="158.80" y1="346.50" x2="158.80" y2="348.50" stroke="#8c8c8c" stroke-width="0.7"/>
<text x="160.40" y="355.50" font-family='"Liberation Serif", serif' font-size="9.0" font-weight="bold" text-anchor="middle" fill="#111" textLength="11.40" lengthAdjust="spacingAndGlyphs" stroke="#111" stroke-width="0.22">1.0</text>
<text x="42.30" y="238.60" font-family='"Liberation Serif", serif' font-size="9.0" font-weight="bold" text-anchor="middle" fill="#111" transform="rotate(-90 42.30 238.60)" textLength="10.60" lengthAdjust="spacingAndGlyphs" stroke="#111" stroke-width="0.22">1.0</text>
<text x="31.40" y="290.80" font-family='"Liberation Serif", serif' font-size="9.0" font-weight="bold" text-anchor="middle" fill="#111" transform="rotate(-90 31.40 290.80)" textLength="70.80" lengthAdjust="spacingAndGlyphs" stroke="#111" stroke-width="0.2">True positive rate</text>
<text x="119.20" y="366.00" font-family='"Liberation Serif", serif' font-size="8.6" font-weight="bold" text-anchor="middle" fill="#111" textLength="73.20" lengthAdjust="spacingAndGlyphs" stroke="#111" stroke-width="0.2">False positive rate</text>
<line x1="328.40" y1="232.70" x2="328.40" y2="348.50" stroke="#efefef" stroke-width="0.5"/>
<line x1="321.50" y1="344.60" x2="442.50" y2="344.60" stroke="#efefef" stroke-width="0.5"/>
<line x1="339.13" y1="232.70" x2="339.13" y2="348.50" stroke="#efefef" stroke-width="0.5"/>
<line x1="321.50" y1="333.83" x2="442.50" y2="333.83" stroke="#efefef" stroke-width="0.5"/>
<line x1="349.86" y1="232.70" x2="349.86" y2="348.50" stroke="#efefef" stroke-width="0.5"/>
<line x1="321.50" y1="323.06" x2="442.50" y2="323.06" stroke="#efefef" stroke-width="0.5"/>
<line x1="360.59" y1="232.70" x2="360.59" y2="348.50" stroke="#efefef" stroke-width="0.5"/>
<line x1="321.50" y1="312.29" x2="442.50" y2="312.29" stroke="#efefef" stroke-width="0.5"/>
<line x1="371.32" y1="232.70" x2="371.32" y2="348.50" stroke="#efefef" stroke-width="0.5"/>
<line x1="321.50" y1="301.52" x2="442.50" y2="301.52" stroke="#efefef" stroke-width="0.5"/>
<line x1="382.05" y1="232.70" x2="382.05" y2="348.50" stroke="#efefef" stroke-width="0.5"/>
<line x1="321.50" y1="290.75" x2="442.50" y2="290.75" stroke="#efefef" stroke-width="0.5"/>
<line x1="392.78" y1="232.70" x2="392.78" y2="348.50" stroke="#efefef" stroke-width="0.5"/>
<line x1="321.50" y1="279.98" x2="442.50" y2="279.98" stroke="#efefef" stroke-width="0.5"/>
<line x1="403.51" y1="232.70" x2="403.51" y2="348.50" stroke="#efefef" stroke-width="0.5"/>
<line x1="321.50" y1="269.21" x2="442.50" y2="269.21" stroke="#efefef" stroke-width="0.5"/>
<line x1="414.24" y1="232.70" x2="414.24" y2="348.50" stroke="#efefef" stroke-width="0.5"/>
<line x1="321.50" y1="258.44" x2="442.50" y2="258.44" stroke="#efefef" stroke-width="0.5"/>
<line x1="424.97" y1="232.70" x2="424.97" y2="348.50" stroke="#efefef" stroke-width="0.5"/>
<line x1="321.50" y1="247.67" x2="442.50" y2="247.67" stroke="#efefef" stroke-width="0.5"/>
<line x1="435.70" y1="232.70" x2="435.70" y2="348.50" stroke="#efefef" stroke-width="0.5"/>
<line x1="321.50" y1="236.90" x2="442.50" y2="236.90" stroke="#efefef" stroke-width="0.5"/>
<polygon points="328.40,344.60 328.40,272.76 335.48,272.76 335.48,236.90 435.70,236.90 435.70,344.60" fill="#dcdcfb"/>
<line x1="328.40" y1="344.60" x2="435.70" y2="344.60" stroke="#b4b4cc" stroke-width="0.8"/>
<g opacity="0.55">
<line x1="328.40" y1="344.60" x2="328.40" y2="236.90" stroke="#c4c4ec" stroke-width="0.5"/>
<line x1="328.40" y1="344.60" x2="435.70" y2="344.60" stroke="#c4c4ec" stroke-width="0.5"/>
<line x1="339.13" y1="344.60" x2="339.13" y2="236.90" stroke="#c4c4ec" stroke-width="0.5"/>
<line x1="328.40" y1="333.83" x2="435.70" y2="333.83" stroke="#c4c4ec" stroke-width="0.5"/>
<line x1="349.86" y1="344.60" x2="349.86" y2="236.90" stroke="#c4c4ec" stroke-width="0.5"/>
<line x1="328.40" y1="323.06" x2="435.70" y2="323.06" stroke="#c4c4ec" stroke-width="0.5"/>
<line x1="360.59" y1="344.60" x2="360.59" y2="236.90" stroke="#c4c4ec" stroke-width="0.5"/>
<line x1="328.40" y1="312.29" x2="435.70" y2="312.29" stroke="#c4c4ec" stroke-width="0.5"/>
<line x1="371.32" y1="344.60" x2="371.32" y2="236.90" stroke="#c4c4ec" stroke-width="0.5"/>
<line x1="328.40" y1="301.52" x2="435.70" y2="301.52" stroke="#c4c4ec" stroke-width="0.5"/>
<line x1="382.05" y1="344.60" x2="382.05" y2="236.90" stroke="#c4c4ec" stroke-width="0.5"/>
<line x1="328.40" y1="290.75" x2="435.70" y2="290.75" stroke="#c4c4ec" stroke-width="0.5"/>
<line x1="392.78" y1="344.60" x2="392.78" y2="236.90" stroke="#c4c4ec" stroke-width="0.5"/>
<line x1="328.40" y1="279.98" x2="435.70" y2="279.98" stroke="#c4c4ec" stroke-width="0.5"/>
<line x1="403.51" y1="344.60" x2="403.51" y2="236.90" stroke="#c4c4ec" stroke-width="0.5"/>
<line x1="328.40" y1="269.21" x2="435.70" y2="269.21" stroke="#c4c4ec" stroke-width="0.5"/>
<line x1="414.24" y1="344.60" x2="414.24" y2="236.90" stroke="#c4c4ec" stroke-width="0.5"/>
<line x1="328.40" y1="258.44" x2="435.70" y2="258.44" stroke="#c4c4ec" stroke-width="0.5"/>
<line x1="424.97" y1="344.60" x2="424.97" y2="236.90" stroke="#c4c4ec" stroke-width="0.5"/>
<line x1="328.40" y1="247.67" x2="435.70" y2="247.67" stroke="#c4c4ec" stroke-width="0.5"/>
<line x1="435.70" y1="344.60" x2="435.70" y2="236.90" stroke="#c4c4ec" stroke-width="0.5"/>
<line x1="328.40" y1="236.90" x2="435.70" y2="236.90" stroke="#c4c4ec" stroke-width="0.5"/>
</g>
<clipPath id="cp321"><rect x="321.5" y="232.7" width="121.0" height="115.80000000000001"/></clipPath>
<line x1="306.94" y1="366.14" x2="457.16" y2="215.36" stroke="#b0b0b8" stroke-width="0.6" clip-path="url(#cp321)"/>
<polyline points="328.40,344.60 328.40,272.76 335.48,272.76 335.48,236.90 435.70,236.90" fill="none" stroke="#4f4fc4" stroke-width="1.35" stroke-linejoin="round"/>
<rect x="321.50" y="232.70" width="121.00" height="115.80" fill="none" stroke="#8c8c8c" stroke-width="1.2"/>
<circle cx="335.50" cy="236.90" r="1.4" fill="#ff1010"/>
<text x="336.90" y="240.30" font-family='"Liberation Sans", sans-serif' font-size="4.4" font-weight="normal" text-anchor="start" fill="#333">0.188(0.9, 1)</text>
<text x="382.00" y="294.00" font-family='"Liberation Sans", sans-serif' font-size="4.6" font-weight="normal" text-anchor="start" fill="#3a3ab4">AUC: 0.982</text>
<text x="382.00" y="299.20" font-family='"Liberation Sans", sans-serif' font-size="4.6" font-weight="normal" text-anchor="start" fill="#3a3ab4">(0.911-1)</text>
<line x1="319.50" y1="344.60" x2="321.50" y2="344.60" stroke="#8c8c8c" stroke-width="0.7"/>
<line x1="328.40" y1="348.50" x2="328.40" y2="350.50" stroke="#8c8c8c" stroke-width="0.7"/>
<text x="328.40" y="357.60" font-family='"Liberation Serif", serif' font-size="9.0" font-weight="bold" text-anchor="middle" fill="#111" textLength="11.40" lengthAdjust="spacingAndGlyphs" stroke="#111" stroke-width="0.22">0.0</text>
<text x="317.00" y="344.60" font-family='"Liberation Serif", serif' font-size="9.0" font-weight="bold" text-anchor="middle" fill="#111" transform="rotate(-90 317.00 344.60)" textLength="10.60" lengthAdjust="spacingAndGlyphs" stroke="#111" stroke-width="0.22">0.0</text>
<line x1="319.50" y1="323.06" x2="321.50" y2="323.06" stroke="#8c8c8c" stroke-width="0.7"/>
<line x1="349.86" y1="348.50" x2="349.86" y2="350.50" stroke="#8c8c8c" stroke-width="0.7"/>
<text x="349.86" y="357.60" font-family='"Liberation Serif", serif' font-size="9.0" font-weight="bold" text-anchor="middle" fill="#111" textLength="11.40" lengthAdjust="spacingAndGlyphs" stroke="#111" stroke-width="0.22">0.2</text>
<text x="317.00" y="323.06" font-family='"Liberation Serif", serif' font-size="9.0" font-weight="bold" text-anchor="middle" fill="#111" transform="rotate(-90 317.00 323.06)" textLength="10.60" lengthAdjust="spacingAndGlyphs" stroke="#111" stroke-width="0.22">0.2</text>
<line x1="319.50" y1="301.52" x2="321.50" y2="301.52" stroke="#8c8c8c" stroke-width="0.7"/>
<line x1="371.32" y1="348.50" x2="371.32" y2="350.50" stroke="#8c8c8c" stroke-width="0.7"/>
<text x="371.32" y="357.60" font-family='"Liberation Serif", serif' font-size="9.0" font-weight="bold" text-anchor="middle" fill="#111" textLength="11.40" lengthAdjust="spacingAndGlyphs" stroke="#111" stroke-width="0.22">0.4</text>
<text x="317.00" y="301.52" font-family='"Liberation Serif", serif' font-size="9.0" font-weight="bold" text-anchor="middle" fill="#111" transform="rotate(-90 317.00 301.52)" textLength="10.60" lengthAdjust="spacingAndGlyphs" stroke="#111" stroke-width="0.22">0.4</text>
<line x1="319.50" y1="279.98" x2="321.50" y2="279.98" stroke="#8c8c8c" stroke-width="0.7"/>
<line x1="392.78" y1="348.50" x2="392.78" y2="350.50" stroke="#8c8c8c" stroke-width="0.7"/>
<text x="392.78" y="357.60" font-family='"Liberation Serif", serif' font-size="9.0" font-weight="bold" text-anchor="middle" fill="#111" textLength="11.40" lengthAdjust="spacingAndGlyphs" stroke="#111" stroke-width="0.22">0.6</text>
<text x="317.00" y="279.98" font-family='"Liberation Serif", serif' font-size="9.0" font-weight="bold" text-anchor="middle" fill="#111" transform="rotate(-90 317.00 279.98)" textLength="10.60" lengthAdjust="spacingAndGlyphs" stroke="#111" stroke-width="0.22">0.6</text>
<line x1="319.50" y1="258.44" x2="321.50" y2="258.44" stroke="#8c8c8c" stroke-width="0.7"/>
<line x1="414.24" y1="348.50" x2="414.24" y2="350.50" stroke="#8c8c8c" stroke-width="0.7"/>
<text x="414.24" y="357.60" font-family='"Liberation Serif", serif' font-size="9.0" font-weight="bold" text-anchor="middle" fill="#111" textLength="11.40" lengthAdjust="spacingAndGlyphs" stroke="#111" stroke-width="0.22">0.8</text>
<text x="317.00" y="258.44" font-family='"Liberation Serif", serif' font-size="9.0" font-weight="bold" text-anchor="middle" fill="#111" transform="rotate(-90 317.00 258.44)" textLength="10.60" lengthAdjust="spacingAndGlyphs" stroke="#111" stroke-width="0.22">0.8</text>
<line x1="319.50" y1="236.90" x2="321.50" y2="236.90" stroke="#8c8c8c" stroke-width="0.7"/>
<line x1="435.70" y1="348.50" x2="435.70" y2="350.50" stroke="#8c8c8c" stroke-width="0.7"/>
<text x="435.70" y="357.60" font-family='"Liberation Serif", serif' font-size="9.0" font-weight="bold" text-anchor="middle" fill="#111" textLength="11.40" lengthAdjust="spacingAndGlyphs" stroke="#111" stroke-width="0.22">1.0</text>
<text x="317.00" y="236.90" font-family='"Liberation Serif", serif' font-size="9.0" font-weight="bold" text-anchor="middle" fill="#111" transform="rotate(-90 317.00 236.90)" textLength="10.60" lengthAdjust="spacingAndGlyphs" stroke="#111" stroke-width="0.22">1.0</text>
<text x="304.60" y="291.00" font-family='"Liberation Serif", serif' font-size="9.0" font-weight="bold" text-anchor="middle" fill="#111" transform="rotate(-90 304.60 291.00)" textLength="73.90" lengthAdjust="spacingAndGlyphs" stroke="#111" stroke-width="0.2">True positive rate</text>
<text x="380.00" y="366.90" font-family='"Liberation Serif", serif' font-size="8.6" font-weight="bold" text-anchor="middle" fill="#111" textLength="75.50" lengthAdjust="spacingAndGlyphs" stroke="#111" stroke-width="0.2">False positive rate</text>
<line x1="176.80" y1="243.00" x2="233.20" y2="243.00" stroke="#f4f4f4" stroke-width="0.5"/>
<line x1="176.80" y1="279.10" x2="233.20" y2="279.10" stroke="#f4f4f4" stroke-width="0.5"/>
<line x1="176.80" y1="315.20" x2="233.20" y2="315.20" stroke="#f4f4f4" stroke-width="0.5"/>
<line x1="176.80" y1="261.10" x2="233.20" y2="261.10" stroke="#e8e8e8" stroke-width="0.6"/>
<line x1="176.80" y1="297.20" x2="233.20" y2="297.20" stroke="#e8e8e8" stroke-width="0.6"/>
<line x1="176.80" y1="333.30" x2="233.20" y2="333.30" stroke="#e8e8e8" stroke-width="0.6"/>
<line x1="191.90" y1="234.20" x2="191.90" y2="347.00" stroke="#e8e8e8" stroke-width="0.6"/>
<line x1="217.50" y1="234.20" x2="217.50" y2="347.00" stroke="#e8e8e8" stroke-width="0.6"/>
<line x1="217.60" y1="239.30" x2="217.60" y2="311.70" stroke="#666" stroke-width="0.7"/>
<rect x="208.00" y="249.90" width="19.60" height="25.50" fill="#0ab84a" stroke="#333" stroke-width="0.3"/>
<line x1="208.00" y1="259.80" x2="227.60" y2="259.80" stroke="#1a1a1a" stroke-width="1.0"/>
<circle cx="217.60" cy="266.40" r="1.15" fill="#f6f600"/>
<line x1="191.80" y1="317.90" x2="191.80" y2="342.50" stroke="#666" stroke-width="0.7"/>
<rect x="182.10" y="323.40" width="20.00" height="8.80" fill="#fa0e4c" stroke="#333" stroke-width="0.3"/>
<line x1="182.10" y1="326.40" x2="202.10" y2="326.40" stroke="#1a1a1a" stroke-width="1.0"/>
<circle cx="191.80" cy="327.90" r="1.15" fill="#f6f600"/>
<circle cx="210.40" cy="239.30" r="0.6" fill="#111"/>
<circle cx="217.40" cy="242.50" r="0.6" fill="#111"/>
<circle cx="215.30" cy="247.80" r="0.6" fill="#111"/>
<circle cx="221.20" cy="246.80" r="0.6" fill="#111"/>
<circle cx="208.50" cy="254.20" r="0.6" fill="#111"/>
<circle cx="212.90" cy="255.10" r="0.6" fill="#111"/>
<circle cx="224.50" cy="252.20" r="0.6" fill="#111"/>
<circle cx="222.10" cy="259.80" r="0.6" fill="#111"/>
<circle cx="218.80" cy="273.40" r="0.6" fill="#111"/>
<circle cx="221.40" cy="273.60" r="0.6" fill="#111"/>
<circle cx="208.50" cy="275.80" r="0.6" fill="#111"/>
<circle cx="217.90" cy="277.20" r="0.6" fill="#111"/>
<circle cx="209.40" cy="312.50" r="0.6" fill="#111"/>
<circle cx="211.00" cy="309.90" r="0.6" fill="#111"/>
<circle cx="186.40" cy="318.50" r="0.6" fill="#111"/>
<circle cx="194.40" cy="318.20" r="0.6" fill="#111"/>
<circle cx="202.10" cy="318.50" r="0.6" fill="#111"/>
<circle cx="201.80" cy="322.20" r="0.6" fill="#111"/>
<circle cx="188.20" cy="324.30" r="0.6" fill="#111"/>
<circle cx="184.20" cy="326.40" r="0.6" fill="#111"/>
<circle cx="198.90" cy="326.40" r="0.6" fill="#111"/>
<circle cx="196.20" cy="325.60" r="0.6" fill="#111"/>
<circle cx="196.90" cy="329.30" r="0.6" fill="#111"/>
<circle cx="188.50" cy="330.60" r="0.6" fill="#111"/>
<circle cx="184.80" cy="333.80" r="0.6" fill="#111"/>
<circle cx="185.30" cy="335.80" r="0.6" fill="#111"/>
<circle cx="192.10" cy="335.50" r="0.6" fill="#111"/>
<circle cx="192.40" cy="342.50" r="0.6" fill="#111"/>
<line x1="176.80" y1="315.40" x2="233.20" y2="315.40" stroke="#f46a6a" stroke-width="0.9"/>
<rect x="176.80" y="234.20" width="56.40" height="112.80" fill="none" stroke="#adadad" stroke-width="0.9"/>
<line x1="175.20" y1="261.10" x2="176.80" y2="261.10" stroke="#999" stroke-width="0.6"/>
<line x1="175.20" y1="297.20" x2="176.80" y2="297.20" stroke="#999" stroke-width="0.6"/>
<line x1="175.20" y1="333.30" x2="176.80" y2="333.30" stroke="#999" stroke-width="0.6"/>
<text x="174.80" y="265.30" font-family='"Liberation Serif", serif' font-size="9.6" font-weight="bold" text-anchor="start" fill="#111" transform="rotate(-90 174.80 265.30)" textLength="10.30" lengthAdjust="spacingAndGlyphs" stroke="#111" stroke-width="0.22">1.0</text>
<text x="174.80" y="301.50" font-family='"Liberation Serif", serif' font-size="9.6" font-weight="bold" text-anchor="start" fill="#111" transform="rotate(-90 174.80 301.50)" textLength="10.70" lengthAdjust="spacingAndGlyphs" stroke="#111" stroke-width="0.22">0.0</text>
<text x="174.80" y="346.50" font-family='"Liberation Serif", serif' font-size="9.6" font-weight="bold" text-anchor="start" fill="#111" transform="rotate(-90 174.80 346.50)" textLength="18.30" lengthAdjust="spacingAndGlyphs" stroke="#111" stroke-width="0.22">− 1.0</text>
<text x="184.90" y="355.70" font-family='"Liberation Serif", serif' font-size="9.0" font-weight="bold" text-anchor="start" fill="#111" textLength="15.20" lengthAdjust="spacingAndGlyphs" stroke="#111" stroke-width="0.2">Ctrl</text>
<text x="208.00" y="355.70" font-family='"Liberation Serif", serif' font-size="9.0" font-weight="bold" text-anchor="start" fill="#111" textLength="28.60" lengthAdjust="spacingAndGlyphs" stroke="#111" stroke-width="0.2">Patient</text>
<line x1="460.60" y1="242.40" x2="518.00" y2="242.40" stroke="#e8e8e8" stroke-width="0.6"/>
<line x1="460.60" y1="263.30" x2="518.00" y2="263.30" stroke="#e8e8e8" stroke-width="0.6"/>
<line x1="460.60" y1="284.10" x2="518.00" y2="284.10" stroke="#e8e8e8" stroke-width="0.6"/>
<line x1="460.60" y1="304.90" x2="518.00" y2="304.90" stroke="#e8e8e8" stroke-width="0.6"/>
<line x1="460.60" y1="325.70" x2="518.00" y2="325.70" stroke="#e8e8e8" stroke-width="0.6"/>
<line x1="460.60" y1="346.50" x2="518.00" y2="346.50" stroke="#e8e8e8" stroke-width="0.6"/>
<line x1="476.30" y1="233.50" x2="476.30" y2="348.90" stroke="#e8e8e8" stroke-width="0.6"/>
<line x1="502.10" y1="233.50" x2="502.10" y2="348.90" stroke="#e8e8e8" stroke-width="0.6"/>
<line x1="475.90" y1="239.50" x2="475.90" y2="259.10" stroke="#666" stroke-width="0.7"/>
<rect x="466.10" y="243.40" width="19.90" height="15.70" fill="#fa0e4c" stroke="#333" stroke-width="0.3"/>
<line x1="466.10" y1="254.50" x2="486.00" y2="254.50" stroke="#1a1a1a" stroke-width="1.0"/>
<circle cx="475.90" cy="254.60" r="1.15" fill="#f6f600"/>
<line x1="502.10" y1="292.70" x2="502.10" y2="344.20" stroke="#666" stroke-width="0.7"/>
<rect x="492.30" y="299.40" width="20.00" height="24.20" fill="#0ab84a" stroke="#333" stroke-width="0.3"/>
<line x1="492.30" y1="314.40" x2="512.30" y2="314.40" stroke="#1a1a1a" stroke-width="1.0"/>
<circle cx="502.10" cy="314.00" r="1.15" fill="#f6f600"/>
<circle cx="465.80" cy="240.60" r="0.6" fill="#111"/>
<circle cx="468.60" cy="238.70" r="0.6" fill="#111"/>
<circle cx="473.60" cy="240.90" r="0.6" fill="#111"/>
<circle cx="479.80" cy="240.00" r="0.6" fill="#111"/>
<circle cx="474.80" cy="246.00" r="0.6" fill="#111"/>
<circle cx="481.30" cy="250.70" r="0.6" fill="#111"/>
<circle cx="482.90" cy="254.50" r="0.6" fill="#111"/>
<circle cx="477.80" cy="257.10" r="0.6" fill="#111"/>
<circle cx="466.60" cy="257.30" r="0.6" fill="#111"/>
<circle cx="468.90" cy="259.10" r="0.6" fill="#111"/>
<circle cx="470.30" cy="260.10" r="0.6" fill="#111"/>
<circle cx="485.70" cy="259.30" r="0.6" fill="#111"/>
<circle cx="477.60" cy="301.20" r="0.6" fill="#111"/>
<circle cx="493.90" cy="292.70" r="0.6" fill="#111"/>
<circle cx="494.80" cy="294.10" r="0.6" fill="#111"/>
<circle cx="507.00" cy="294.40" r="0.6" fill="#111"/>
<circle cx="505.10" cy="297.40" r="0.6" fill="#111"/>
<circle cx="493.00" cy="301.10" r="0.6" fill="#111"/>
<circle cx="504.20" cy="306.20" r="0.6" fill="#111"/>
<circle cx="504.90" cy="310.00" r="0.6" fill="#111"/>
<circle cx="496.20" cy="314.50" r="0.6" fill="#111"/>
<circle cx="512.60" cy="317.50" r="0.6" fill="#111"/>
<circle cx="501.10" cy="323.20" r="0.6" fill="#111"/>
<circle cx="506.50" cy="324.40" r="0.6" fill="#111"/>
<circle cx="510.10" cy="323.20" r="0.6" fill="#111"/>
<circle cx="494.10" cy="333.70" r="0.6" fill="#111"/>
<circle cx="507.00" cy="332.80" r="0.6" fill="#111"/>
<circle cx="508.40" cy="344.50" r="0.6" fill="#111"/>
<line x1="460.60" y1="276.30" x2="518.00" y2="276.30" stroke="#f46a6a" stroke-width="0.9"/>
<rect x="460.60" y="233.50" width="57.40" height="115.40" fill="none" stroke="#adadad" stroke-width="0.9"/>
<line x1="459.00" y1="242.40" x2="460.60" y2="242.40" stroke="#999" stroke-width="0.6"/>
<line x1="459.00" y1="263.30" x2="460.60" y2="263.30" stroke="#999" stroke-width="0.6"/>
<line x1="459.00" y1="284.10" x2="460.60" y2="284.10" stroke="#999" stroke-width="0.6"/>
<line x1="459.00" y1="304.90" x2="460.60" y2="304.90" stroke="#999" stroke-width="0.6"/>
<line x1="459.00" y1="325.70" x2="460.60" y2="325.70" stroke="#999" stroke-width="0.6"/>
<line x1="459.00" y1="346.50" x2="460.60" y2="346.50" stroke="#999" stroke-width="0.6"/>
<text x="456.80" y="245.70" font-family='"Liberation Serif", serif' font-size="9.6" font-weight="bold" text-anchor="start" fill="#111" transform="rotate(-90 456.80 245.70)" textLength="11.00" lengthAdjust="spacingAndGlyphs" stroke="#111" stroke-width="0.22">1.0</text>
<text x="456.80" y="265.00" font-family='"Liberation Serif", serif' font-size="9.6" font-weight="bold" text-anchor="start" fill="#111" transform="rotate(-90 456.80 265.00)" textLength="11.30" lengthAdjust="spacingAndGlyphs" stroke="#111" stroke-width="0.22">0.5</text>
<text x="456.80" y="287.90" font-family='"Liberation Serif", serif' font-size="9.6" font-weight="bold" text-anchor="start" fill="#111" transform="rotate(-90 456.80 287.90)" textLength="11.50" lengthAdjust="spacingAndGlyphs" stroke="#111" stroke-width="0.22">0.0</text>
<text x="456.80" y="315.30" font-family='"Liberation Serif", serif' font-size="9.6" font-weight="bold" text-anchor="start" fill="#111" transform="rotate(-90 456.80 315.30)" textLength="17.10" lengthAdjust="spacingAndGlyphs" stroke="#111" stroke-width="0.22">− 0.5</text>
<text x="456.80" y="334.60" font-family='"Liberation Serif", serif' font-size="9.6" font-weight="bold" text-anchor="start" fill="#111" transform="rotate(-90 456.80 334.60)" textLength="17.10" lengthAdjust="spacingAndGlyphs" stroke="#111" stroke-width="0.22">− 1.0</text>
<text x="456.80" y="352.30" font-family='"Liberation Serif", serif' font-size="9.6" font-weight="bold" text-anchor="start" fill="#111" transform="rotate(-90 456.80 352.30)" textLength="15.90" lengthAdjust="spacingAndGlyphs" stroke="#111" stroke-width="0.22">− 1.5</text>
<text x="468.00" y="357.90" font-family='"Liberation Serif", serif' font-size="9.0" font-weight="bold" text-anchor="start" fill="#111" textLength="16.20" lengthAdjust="spacingAndGlyphs" stroke="#111" stroke-width="0.2">Ctrl</text>
<text x="492.20" y="357.90" font-family='"Liberation Serif", serif' font-size="9.0" font-weight="bold" text-anchor="start" fill="#111" textLength="29.70" lengthAdjust="spacingAndGlyphs" stroke="#111" stroke-width="0.2">Patient</text>
</svg></body></html>
